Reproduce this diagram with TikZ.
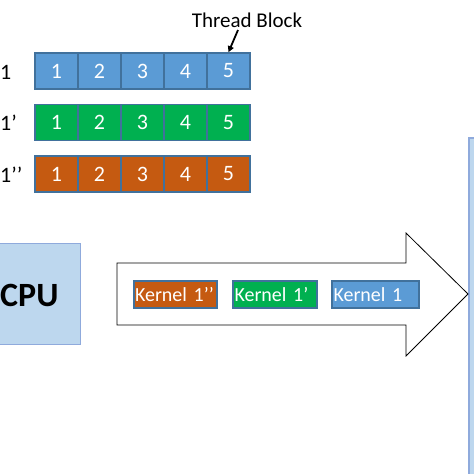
\documentclass[tikz,border=0pt]{standalone}
\usepackage{fontspec}
\setmainfont{Carlito}
\usetikzlibrary{arrows.meta}
\definecolor{cblue}{HTML}{5B9BD5}
\definecolor{cgreen}{HTML}{00B050}
\definecolor{corange}{HTML}{C55A11}
\definecolor{cborder}{HTML}{41719C}
\definecolor{lblue}{HTML}{BDD7EE}
\definecolor{lborder}{HTML}{8FAADC}
\tikzset{
  cell/.style={draw=cborder, line width=1.6pt, minimum width=43pt, minimum height=36pt, inner sep=0pt, text=white, font=\fontsize{22}{22}\selectfont},
  kern/.style={draw=cborder, line width=1.2pt, minimum height=27pt, inner sep=0pt, text=white, font=\fontsize{20}{20}\selectfont, align=left},
  lbl/.style={anchor=west, inner sep=0pt, font=\fontsize{22}{22}\selectfont},
}
\begin{document}
\begin{tikzpicture}[x=1pt,y=-1pt]
\useasboundingbox (0,0) rectangle (474,474);
% right panel
\path[fill=lblue, draw=lborder, line width=1.5pt] (469,138) rectangle (480,480);
% thread block rows
\foreach \r/\c/\y in {1/cblue/71, 2/cgreen/122.5, 3/corange/174}{
  \foreach \i in {1,...,5}{
    \node[cell, fill=\c] (c\r\i) at ({35+43*(\i-0.5)},\y) {\i};
  }
}
\node[lbl] (l1) at (0,72) {1};
\node[lbl] (l2) at (0,123) {1’};
\node[lbl] (l3) at (0,175) {1’’};
% thread block label
\node[font=\fontsize{21}{21}\selectfont, inner sep=0pt] (tb) at (247,20) {Thread Block};
\coordinate (tbs) at (238,30);
\draw[line width=1.8pt, -{Triangle[length=6pt,width=6pt]}] (tbs) -- (c15.north);
% CPU box
\path[fill=lblue, draw=lborder, line width=1pt] (-5,243) rectangle (80,344);
\node[font=\bfseries\fontsize{34}{34}\selectfont, inner sep=0pt, anchor=west] (cpu) at (0,295) {CPU};
% big arrow
\draw[fill=white, line width=0.8pt] (117,263) -- (406,263) -- (406,233) -- (468,294) -- (406,356) -- (406,325) -- (117,325) -- cycle;
% kernels
\node[kern, fill=corange, minimum width=83pt, text width=81pt] (k3) at (175.5,294.5) {Kernel~1’’};
\node[kern, fill=cgreen, minimum width=84pt, text width=81pt] (k2) at (275,294.5) {Kernel~1’};
\node[kern, fill=cblue, minimum width=87pt, text width=84pt] (k1) at (375.5,294.5) {Kernel~1};
\end{tikzpicture}
\end{document}
